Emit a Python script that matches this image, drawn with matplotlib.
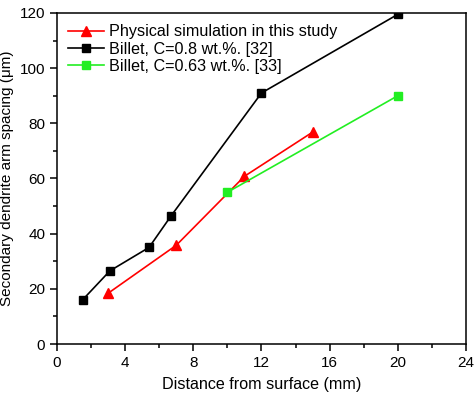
import numpy as np
import matplotlib.pyplot as plt
from matplotlib.ticker import MultipleLocator

plt.rcParams['font.family'] = ['Liberation Sans', 'DejaVu Sans']

# physical simulation (this study)
sim_x = [3, 7, 11, 15]
sim_y = [18.4, 35.8, 60.8, 76.8]

# billet C=0.8 wt.% [32]
b08_x = [1.5, 3.1, 5.4, 6.7, 12, 20]
b08_y = [16, 26.5, 35, 46.5, 91, 119.5]

# billet C=0.63 wt.% [33]
b063_x = [10, 20]
b063_y = [55, 90]

fig = plt.figure(figsize=(4.74, 3.97), dpi=100)
ax = fig.add_axes([0.1203, 0.1335, 0.8627, 0.8338])

ax.plot(sim_x, sim_y, color='#ff0000', lw=1.2, marker='^', ms=7,
        label='Physical simulation in this study')
ax.plot(b08_x, b08_y, color='black', lw=1.2, marker='s', ms=5.5,
        label='Billet, C=0.8 wt.%. [32]')
ax.plot(b063_x, b063_y, color='#22ee22', lw=1.2, marker='s', ms=5.5,
        label='Billet, C=0.63 wt.%. [33]')

ax.set_xlim(0, 24)
ax.set_ylim(0, 120)
ax.xaxis.set_major_locator(MultipleLocator(4))
ax.xaxis.set_minor_locator(MultipleLocator(2))
ax.yaxis.set_major_locator(MultipleLocator(20))
ax.yaxis.set_minor_locator(MultipleLocator(10))
ax.tick_params(which='both', direction='out', top=False, right=False, labelsize=11, width=1.1)
ax.tick_params(which='major', length=5)
ax.tick_params(which='minor', length=3)
for s in ax.spines.values():
    s.set_linewidth(1.1)

ax.set_xlabel('Distance from surface (mm)', fontsize=11.6, labelpad=5)
ax.set_ylabel('Secondary dendrite arm spacing (\u03bcm)', fontsize=11)

ax.legend(loc='upper left', frameon=False, fontsize=11.6, handlelength=2.2,
          handletextpad=0.3, labelspacing=0.15, borderaxespad=0.3)

fig.savefig('out.png', dpi=100)
